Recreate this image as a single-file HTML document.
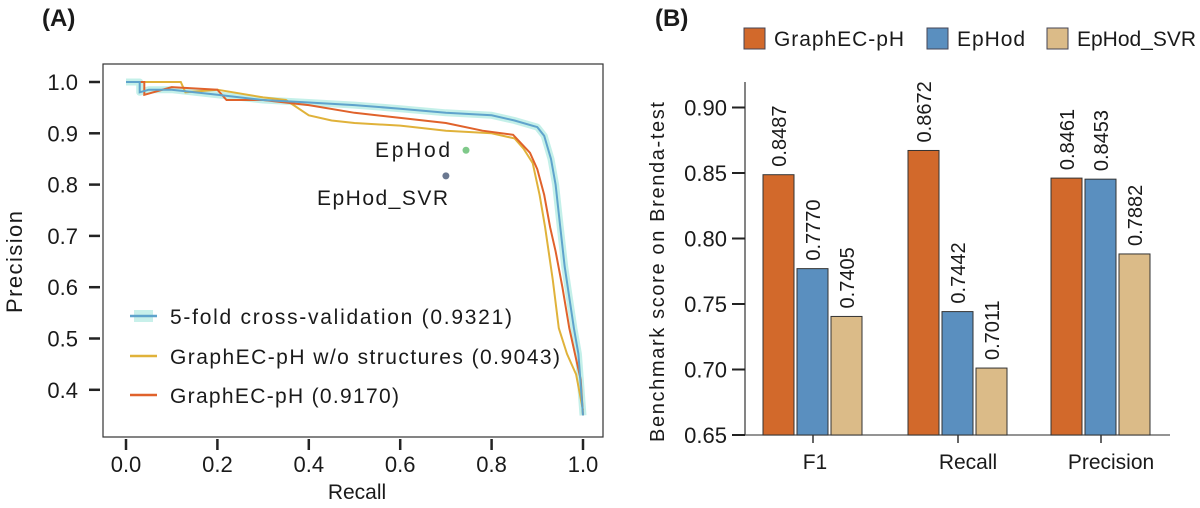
<!DOCTYPE html>
<html><head><meta charset="utf-8"><style>
body{margin:0;background:#fff;}
svg text{font-family:"Liberation Sans","DejaVu Sans",sans-serif;fill:#1a1a1a;}
</style></head><body>
<svg id="chart" width="1200" height="503" viewBox="0 0 1200 503">
<g id="pa"></g>
<g id="pb"></g>
</svg>
<script>
// Panel A data
const cvRecall=[0,0.03,0.03,0.05,0.1,0.2,0.3,0.4,0.5,0.6,0.7,0.8,0.85,0.9,0.915,0.93,0.94,0.95,0.96,0.97,0.98,0.99,1.0];
const cvPrec=[1.0,1.0,0.98,0.985,0.985,0.975,0.965,0.96,0.955,0.948,0.94,0.935,0.925,0.912,0.895,0.85,0.8,0.72,0.64,0.58,0.52,0.47,0.35];
const gpRecall=[0,0.04,0.04,0.1,0.2,0.22,0.3,0.4,0.5,0.6,0.7,0.78,0.847,0.884,0.9,0.915,0.928,0.94,0.955,0.97,0.985,0.995,1.0];
const gpPrec=[1,1,0.975,0.99,0.985,0.965,0.965,0.955,0.94,0.93,0.92,0.905,0.897,0.862,0.83,0.78,0.717,0.67,0.6,0.52,0.46,0.42,0.35];
const nsRecall=[0,0.12,0.13,0.2,0.3,0.35,0.4,0.45,0.5,0.6,0.7,0.8,0.85,0.87,0.89,0.905,0.917,0.934,0.947,0.965,0.985,1.0];
const nsPrec=[1,1,0.98,0.985,0.97,0.965,0.935,0.925,0.92,0.915,0.905,0.9,0.89,0.87,0.842,0.78,0.717,0.614,0.52,0.47,0.43,0.36];
const xTicksA=[0,0.2,0.4,0.6,0.8,1.0];
const yTicksA=[0.4,0.5,0.6,0.7,0.8,0.9,1.0];
const legendA=["5-fold cross-validation (0.9321)","GraphEC-pH w/o structures (0.9043)","GraphEC-pH (0.9170)"];
// Panel B data
const categories=["F1","Recall","Precision"];
const seriesNames=["GraphEC-pH","EpHod","EpHod_SVR"];
const graphecVals=[0.8487,0.8672,0.8461];
const ephodVals=[0.7770,0.7442,0.8453];
const svrVals=[0.7405,0.7011,0.7882];
const yTicksB=[0.65,0.70,0.75,0.80,0.85,0.90];

const NS="http://www.w3.org/2000/svg";
function mk(p,t,a,txt){const e=document.createElementNS(NS,t);for(const k in a)e.setAttribute(k,a[k]);if(txt!==undefined)e.textContent=txt;p.appendChild(e);return e;}
const pa=document.getElementById('pa'),pb=document.getElementById('pb');
const xA=v=>126+v*457, yA=v=>82+(1.0-v)*513;
let e;
e=mk(pa,'text',{x:42,y:26,'font-size':24,'font-weight':'bold'},'(A)');


e=mk(pa,'rect',{x:103,y:64,width:500,height:373,fill:'none',stroke:'#333','stroke-width':1.2});


yTicksA.forEach(v=>{const y=yA(v);
 e=mk(pa,'line',{x1:89,x2:100,y1:y,y2:y,stroke:'#222','stroke-width':2.5});
 
 
 e=mk(pa,'text',{x:78,y:y+8,'font-size':22,'text-anchor':'end'},v.toFixed(1));
 
 });
xTicksA.forEach(v=>{const x=xA(v);
 e=mk(pa,'line',{x1:x,x2:x,y1:439,y2:450,stroke:'#222','stroke-width':2.5});
 
 
 e=mk(pa,'text',{x:x,y:472,'font-size':22,'text-anchor':'middle'},v.toFixed(1));
 
 });
e=mk(pa,'text',{x:357,y:499,'font-size':21,'text-anchor':'middle'},'Recall');


e=mk(pa,'text',{x:0,y:0,'font-size':22,'text-anchor':'middle',textLength:102,transform:'translate(22,262) rotate(-90)'},'Precision');


function pathOf(rs,ps){return rs.map((r,i)=>(i?'L':'M')+xA(r).toFixed(1)+','+yA(ps[i]).toFixed(1)).join(' ');}
e=mk(pa,'path',{d:pathOf(cvRecall,cvPrec),fill:'none',stroke:'#b5ece4','stroke-width':7,'stroke-linejoin':'round',opacity:0.8});


e=mk(pa,'path',{d:pathOf(nsRecall,nsPrec),fill:'none',stroke:'#e0b23a','stroke-width':2});


e=mk(pa,'path',{d:pathOf(gpRecall,gpPrec),fill:'none',stroke:'#e0622b','stroke-width':2});


e=mk(pa,'path',{d:pathOf(cvRecall,cvPrec),fill:'none',stroke:'#5fa3cc','stroke-width':2});


e=mk(pa,'circle',{cx:xA(0.744),cy:yA(0.867),r:3.5,fill:'#7fc98a'});


e=mk(pa,'text',{x:450,y:157,'font-size':21,'text-anchor':'end',textLength:75},'EpHod');


e=mk(pa,'circle',{cx:xA(0.70),cy:yA(0.817),r:3.5,fill:'#6a7890'});


e=mk(pa,'text',{x:317,y:205,'font-size':21,textLength:131},'EpHod_SVR');


const legCols=['#5fa3cc','#e0b23a','#e0622b'];
const legY=[316,356,395], legW=[342,390,229];
legendA.forEach((t,i)=>{const y=legY[i];
 if(i===0){e=mk(pa,'rect',{x:134,y:y-6,width:19,height:12,fill:'#c8f0ea'});
  
  }
 e=mk(pa,'line',{x1:130,x2:157,y1:y,y2:y,stroke:legCols[i],'stroke-width':2.5});
 
 
 e=mk(pa,'text',{x:170,y:y+8,'font-size':21,textLength:legW[i]},t);
 
 });

// Panel B
const yB=v=>435-(v-0.65)/0.05*65.5;
const catX=[813,958,1101];
e=mk(pb,'text',{x:655,y:26,'font-size':24,'font-weight':'bold'},'(B)');


const barCols=['#d2692b','#5a8fbf','#dbbb88'];
const legBX=[744,927,1047], legBW=[130,68,119];
seriesNames.forEach((n,i)=>{const lx=legBX[i];
 e=mk(pb,'rect',{x:lx,y:28,width:21,height:21,fill:barCols[i],stroke:'#445','stroke-width':1});
 
 
 e=mk(pb,'text',{x:lx+30,y:46,'font-size':21,textLength:legBW[i]},n);
 
 });
e=mk(pb,'line',{x1:745,x2:745,y1:82,y2:435,stroke:'#333','stroke-width':1.2});


e=mk(pb,'line',{x1:745,x2:1170,y1:435,y2:435,stroke:'#555','stroke-width':1.2});


yTicksB.forEach(v=>{const y=yB(v);
 e=mk(pb,'line',{x1:732,x2:745,y1:y,y2:y,stroke:'#222','stroke-width':2});
 
 
 e=mk(pb,'text',{x:727,y:y+8,'font-size':22,'text-anchor':'end'},v.toFixed(2));
 
 });
e=mk(pb,'text',{x:0,y:0,'font-size':20,'text-anchor':'middle',textLength:340,transform:'translate(664,272) rotate(-90)'},'Benchmark score on Brenda-test');


const allVals=[graphecVals,ephodVals,svrVals];
categories.forEach((c,ci)=>{const cx=catX[ci];
 e=mk(pb,'line',{x1:cx,x2:cx,y1:435,y2:443,stroke:'#333','stroke-width':1.5});
 
 
 e=mk(pb,'text',{x:cx+(ci===0?2:10),y:469,'font-size':21,'text-anchor':'middle'},c);
 
 
 allVals.forEach((arr,si)=>{const v=arr[ci];const x=cx-50+si*34;const y=yB(v);
  e=mk(pb,'rect',{x:x,y:y,width:31,height:435-y,fill:barCols[si],stroke:'#333','stroke-width':1});
  
  
  e=mk(pb,'text',{x:0,y:0,'font-size':20,transform:`translate(${x+23},${y-8}) rotate(-90)`},v.toFixed(4));
  
  });});
</script>
</body></html>
